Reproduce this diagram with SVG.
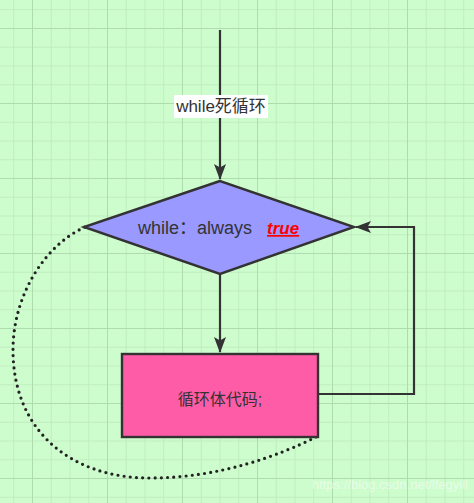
<svg xmlns="http://www.w3.org/2000/svg" width="474" height="503" viewBox="0 0 474 503">
<style>
.edge{fill:none;stroke:#333333;stroke-width:2.2}
.shape{stroke:#333333;stroke-width:2.4}
.lbl{font-family:"Liberation Sans","Noto Sans CJK SC",sans-serif;fill:#333333}
</style>
<defs>
<pattern id="minor" x="13.25" y="9.25" width="18.75" height="18.75" patternUnits="userSpaceOnUse">
<path d="M0 0H18.75M0 0V18.75" fill="none" stroke="#bde9bd" stroke-width="1.5"/>
</pattern>
<pattern id="major" x="32" y="28" width="75" height="75" patternUnits="userSpaceOnUse">
<path d="M0 0H75M0 0V75" fill="none" stroke="#afdcaf" stroke-width="2"/>
</pattern>
<marker id="arr" viewBox="0 0 16 12" refX="15" refY="6" markerWidth="16" markerHeight="12" markerUnits="userSpaceOnUse" orient="auto">
<path d="M0 0L16 6L0 12L3.5 6Z" fill="#333333"/>
</marker>
</defs>
<rect width="474" height="503" fill="#cdfccd"/>
<rect width="474" height="503" fill="url(#minor)"/>
<rect width="474" height="503" fill="url(#major)"/>
<g id="connectors">
<path class="edge" d="M220 30V179" marker-end="url(#arr)"/>
<path class="edge" d="M220 274V352" marker-end="url(#arr)"/>
<path class="edge" d="M318 394H414V227H356" marker-end="url(#arr)"/>
<path d="M316 437C280 455 220 478 150 478C70 478 13 430 13 350C13 295 45 245 85 227" fill="none" stroke="#222222" stroke-width="3.2" stroke-linecap="round" stroke-dasharray="0 6.2"/>
</g>
<g id="label-while-loop">
<rect x="174" y="95" width="94" height="23" fill="#ffffff"/>
<text class="lbl" x="221" y="112" font-size="17" text-anchor="middle">while死循环</text>
</g>
<g id="node-condition">
<polygon class="shape" points="220,181 84,227 220,274 354,227" fill="#9999ff"/>
<text class="lbl" x="138" y="234" font-size="18">while：always</text>
<text x="267" y="234" font-size="17" font-family="Liberation Sans, sans-serif" font-weight="bold" font-style="italic" fill="#ff0000" text-decoration="underline">true</text>
</g>
<g id="node-body">
<rect class="shape" x="122" y="354" width="196" height="83" fill="#ff5ca8"/>
<text class="lbl" x="220" y="405" font-size="16" text-anchor="middle">循环体代码;</text>
</g>
<text x="468" y="489" font-size="13" text-anchor="end" font-family="Liberation Sans, sans-serif" fill="#ffffff" fill-opacity="0.55">https://blog.csdn.net/lfegyili</text>
</svg>
